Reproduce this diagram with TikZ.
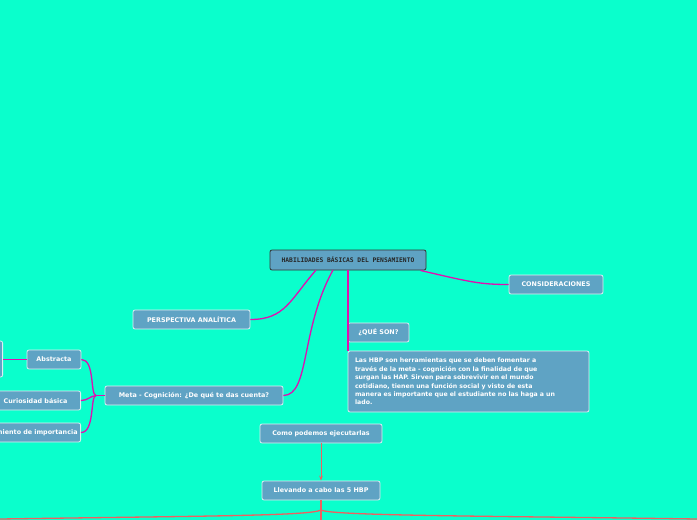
\documentclass[tikz,border=0pt]{standalone}
\usepackage{fontspec}
\setmainfont{DejaVu Sans}
\newfontfamily\monof{DejaVu Sans Mono}
\usetikzlibrary{arrows.meta}
\definecolor{bg}{HTML}{0AFFCC}
\definecolor{nf}{HTML}{5FA3C4}
\definecolor{mag}{HTML}{E010B0}
\definecolor{rl}{HTML}{F06060}
\tikzset{
 box/.style={draw=white!80!nf, line width=0.8pt, fill=nf, rounded corners=2pt, text=white, font=\bfseries\fontsize{6.4}{8}\selectfont, inner sep=0pt, minimum height=19pt},
 mline/.style={draw=mag, line width=1.3pt},
 rline/.style={draw=rl, line width=1.3pt}
}
\begin{document}
\begin{tikzpicture}[x=1pt,y=-1pt]
\fill[bg] (0,0) rectangle (697,520);
\useasboundingbox (0,0) rectangle (697,520);
\node[box, draw=black!80, text=black!85, font=\monof\bfseries\fontsize{6.3}{7}\selectfont, minimum width=156pt, minimum height=20pt] (root) at (348,260) {HABILIDADES BÁSICAS DEL PENSAMIENTO};
\node[box, minimum width=94pt] (cons) at (556,284.5) {CONSIDERACIONES};
\node[box, minimum width=117pt] (persp) at (191.5,319.5) {PERSPECTIVA ANALÍTICA};
\node[box, minimum width=61pt] (que) at (378.5,332.5) {¿QUÉ SON?};
\node[box, minimum width=241pt, minimum height=61pt, align=left, text width=227pt, font=\bfseries\fontsize{6.2}{8.4}\selectfont] (txt) at (468.5,381.5) {Las HBP son herramientas que se deben fomentar a\\ través de la meta - cognición con la finalidad de que\\ surgan las HAP. Sirven para sobrevivir en el mundo\\ cotidiano, tienen una función social y visto de esta\\ manera es importante que el estudiante no las haga a un\\ lado.};
\node[box, minimum width=178pt] (meta) at (194,395.5) {Meta - Cognición: ¿De qué te das cuenta?};
\node[box, minimum width=54pt] (abs) at (54,359.5) {Abstracta};
\node[box, anchor=east, minimum width=90pt] (cur) at (81,400.5) {Curiosidad básica};
\node[box, anchor=east, minimum width=140pt, align=right, text width=134pt] (imp) at (81,432.5) {Establecimiento de importancia};
\node[box, anchor=east, minimum width=40pt, minimum height=36pt] (lft) at (3,359) {};
\node[box, minimum width=122pt] (como) at (321,433.5) {Como podemos ejecutarlas};
\node[box, minimum width=118pt] (llev) at (321,490.5) {Llevando a cabo las 5 HBP};
\coordinate (bl) at (0,519);
\coordinate (br) at (697,519);
\coordinate (bm) at (321,520);
\draw[mline] (root.south east)++(-6,0) .. controls (470,282) and (480,284.5) .. (cons.west);
\draw[mline] (316,270) .. controls (290,300) and (285,319.5) .. (persp.east);
\draw[mline] (333,270) .. controls (300,330) and (310,395) .. (meta.east);
\draw[mline] (348,270) -- (348,351);
\draw[mline] (meta.west) -- (96,395.5);
\draw[mline] (96,395.5) .. controls (90,395) and (95,359.5) .. (abs.east);
\draw[mline] (96,395.5) .. controls (90,396) and (88,400.5) .. (cur.east);
\draw[mline] (96,395.5) .. controls (90,396) and (95,432.5) .. (imp.east);
\draw[mline] (abs.west) -- (lft.east |- abs.west);
\draw[rl, line width=1pt, -{Stealth[length=5pt]}] (como.south) -- (llev.north);
\draw[rline] (llev.south) -- (bm);
\draw[rline] (321,510) .. controls (310,516) and (200,516) .. (bl);
\draw[rline] (321,510) .. controls (332,516) and (500,516) .. (br);
\end{tikzpicture}
\end{document}
